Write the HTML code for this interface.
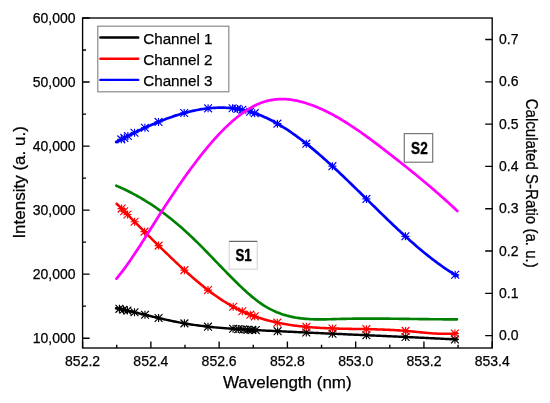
<!DOCTYPE html><html><head><meta charset="utf-8"><style>html,body{margin:0;padding:0;background:#fff;}svg{display:block;}text{font-family:"Liberation Sans",Arial,sans-serif;stroke:#000;stroke-width:0.25px;}</style></head><body>
<svg width="550" height="403" viewBox="0 0 550 403">
<rect width="550" height="403" fill="#fff"/>
<rect x="97.8" y="26.2" width="131" height="65.6" fill="none" stroke="#8a8a8a" stroke-width="1.2"/>
<g stroke-width="2.4" stroke-linecap="round"><line x1="100.4" y1="37.5" x2="138.2" y2="37.5" stroke="#000"/><line x1="100.4" y1="58.8" x2="138.2" y2="58.8" stroke="#f00"/><line x1="100.4" y1="79.9" x2="138.2" y2="79.9" stroke="#00f"/></g>
<g font-size="15.4" fill="#000"><text x="143.2" y="43.6" textLength="69.4" lengthAdjust="spacingAndGlyphs">Channel 1</text><text x="143.2" y="64.8" textLength="69.4" lengthAdjust="spacingAndGlyphs">Channel 2</text><text x="143.2" y="85.6" textLength="69.4" lengthAdjust="spacingAndGlyphs">Channel 3</text></g>
<g fill="none" stroke-linecap="round" stroke-linejoin="round">
<path d="M116.00,308.15 L117.50,308.45 L119.00,308.76 L120.50,309.07 L122.00,309.40 L123.50,309.72 L125.00,310.06 L126.50,310.40 L128.00,310.74 L129.50,311.09 L131.00,311.44 L132.50,311.79 L134.00,312.15 L135.50,312.50 L137.00,312.86 L138.50,313.22 L140.00,313.58 L141.50,313.94 L143.00,314.31 L144.50,314.67 L146.00,315.03 L147.50,315.39 L149.00,315.75 L150.50,316.11 L152.00,316.47 L153.50,316.82 L155.00,317.18 L156.50,317.53 L158.00,317.88 L159.50,318.23 L161.00,318.57 L162.50,318.92 L164.00,319.25 L165.50,319.59 L167.00,319.92 L168.50,320.25 L170.00,320.57 L171.50,320.88 L173.00,321.20 L174.50,321.50 L176.00,321.80 L177.50,322.10 L179.00,322.39 L180.50,322.67 L182.00,322.95 L183.50,323.21 L185.00,323.48 L186.50,323.73 L188.00,323.98 L189.50,324.22 L191.00,324.45 L192.50,324.68 L194.00,324.90 L195.50,325.11 L197.00,325.32 L198.50,325.52 L200.00,325.71 L201.50,325.90 L203.00,326.09 L204.50,326.26 L206.00,326.44 L207.50,326.60 L209.00,326.77 L210.50,326.92 L212.00,327.07 L213.50,327.22 L215.00,327.37 L216.50,327.50 L218.00,327.64 L219.50,327.77 L221.00,327.90 L222.50,328.02 L224.00,328.14 L225.50,328.25 L227.00,328.37 L228.50,328.47 L230.00,328.58 L231.50,328.68 L233.00,328.78 L234.50,328.88 L236.00,328.98 L237.50,329.07 L239.00,329.16 L240.50,329.25 L242.00,329.34 L243.50,329.42 L245.00,329.51 L246.50,329.59 L248.00,329.67 L249.50,329.75 L251.00,329.83 L252.50,329.91 L254.00,329.99 L255.50,330.06 L257.00,330.14 L258.50,330.22 L260.00,330.29 L261.50,330.37 L263.00,330.45 L264.50,330.52 L266.00,330.60 L267.50,330.67 L269.00,330.75 L270.50,330.82 L272.00,330.89 L273.50,330.97 L275.00,331.04 L276.50,331.11 L278.00,331.19 L279.50,331.26 L281.00,331.33 L282.50,331.40 L284.00,331.48 L285.50,331.55 L287.00,331.62 L288.50,331.69 L290.00,331.76 L291.50,331.83 L293.00,331.90 L294.50,331.97 L296.00,332.04 L297.50,332.11 L299.00,332.18 L300.50,332.25 L302.00,332.32 L303.50,332.39 L305.00,332.46 L306.50,332.53 L308.00,332.60 L309.50,332.67 L311.00,332.74 L312.50,332.80 L314.00,332.87 L315.50,332.94 L317.00,333.01 L318.50,333.08 L320.00,333.14 L321.50,333.21 L323.00,333.28 L324.50,333.35 L326.00,333.41 L327.50,333.48 L329.00,333.55 L330.50,333.62 L332.00,333.68 L333.50,333.75 L335.00,333.82 L336.50,333.88 L338.00,333.95 L339.50,334.02 L341.00,334.08 L342.50,334.15 L344.00,334.22 L345.50,334.28 L347.00,334.35 L348.50,334.42 L350.00,334.48 L351.50,334.55 L353.00,334.62 L354.50,334.68 L356.00,334.75 L357.50,334.82 L359.00,334.88 L360.50,334.95 L362.00,335.02 L363.50,335.08 L365.00,335.15 L366.50,335.22 L368.00,335.28 L369.50,335.35 L371.00,335.42 L372.50,335.48 L374.00,335.55 L375.50,335.62 L377.00,335.69 L378.50,335.75 L380.00,335.82 L381.50,335.89 L383.00,335.96 L384.50,336.02 L386.00,336.09 L387.50,336.16 L389.00,336.23 L390.50,336.29 L392.00,336.36 L393.50,336.43 L395.00,336.50 L396.50,336.57 L398.00,336.64 L399.50,336.71 L401.00,336.77 L402.50,336.84 L404.00,336.91 L405.50,336.98 L407.00,337.05 L408.50,337.12 L410.00,337.19 L411.50,337.26 L413.00,337.33 L414.50,337.40 L416.00,337.47 L417.50,337.54 L419.00,337.62 L420.50,337.69 L422.00,337.76 L423.50,337.83 L425.00,337.90 L426.50,337.98 L428.00,338.05 L429.50,338.12 L431.00,338.19 L432.50,338.27 L434.00,338.34 L435.50,338.41 L437.00,338.49 L438.50,338.56 L440.00,338.64 L441.50,338.71 L443.00,338.79 L444.50,338.86 L446.00,338.94 L447.50,339.02 L449.00,339.09 L450.50,339.17 L452.00,339.25 L453.50,339.32 L455.00,339.40 L456.50,339.48 L457.00,339.50" stroke="#000" stroke-width="2.45"/>
<path d="M119.40,304.84v8.00M115.40,308.84h8.00M115.50,304.94l7.80,7.80M115.50,312.74l7.80,-7.80M123.40,305.70v8.00M119.40,309.70h8.00M119.50,305.80l7.80,7.80M119.50,313.60l7.80,-7.80M127.40,306.60v8.00M123.40,310.60h8.00M123.50,306.70l7.80,7.80M123.50,314.50l7.80,-7.80M134.50,308.26v8.00M130.50,312.26h8.00M130.60,308.36l7.80,7.80M130.60,316.16l7.80,-7.80M145.00,310.79v8.00M141.00,314.79h8.00M141.10,310.89l7.80,7.80M141.10,318.69l7.80,-7.80M158.60,314.02v8.00M154.60,318.02h8.00M154.70,314.12l7.80,7.80M154.70,321.92l7.80,-7.80M184.40,319.37v8.00M180.40,323.37h8.00M180.50,319.47l7.80,7.80M180.50,327.27l7.80,-7.80M208.00,322.66v8.00M204.00,326.66h8.00M204.10,322.76l7.80,7.80M204.10,330.56l7.80,-7.80M233.10,324.79v8.00M229.10,328.79h8.00M229.20,324.89l7.80,7.80M229.20,332.69l7.80,-7.80M238.30,325.12v8.00M234.30,329.12h8.00M234.40,325.22l7.80,7.80M234.40,333.02l7.80,-7.80M243.10,325.40v8.00M239.10,329.40h8.00M239.20,325.50l7.80,7.80M239.20,333.30l7.80,-7.80M247.60,325.65v8.00M243.60,329.65h8.00M243.70,325.75l7.80,7.80M243.70,333.55l7.80,-7.80M252.00,325.88v8.00M248.00,329.88h8.00M248.10,325.98l7.80,7.80M248.10,333.78l7.80,-7.80M255.80,326.08v8.00M251.80,330.08h8.00M251.90,326.18l7.80,7.80M251.90,333.98l7.80,-7.80M277.60,327.17v8.00M273.60,331.17h8.00M273.70,327.27l7.80,7.80M273.70,335.07l7.80,-7.80M306.30,328.52v8.00M302.30,332.52h8.00M302.40,328.62l7.80,7.80M302.40,336.42l7.80,-7.80M332.50,329.71v8.00M328.50,333.71h8.00M328.60,329.81l7.80,7.80M328.60,337.61l7.80,-7.80M366.40,331.21v8.00M362.40,335.21h8.00M362.50,331.31l7.80,7.80M362.50,339.11l7.80,-7.80M405.60,332.99v8.00M401.60,336.99h8.00M401.70,333.09l7.80,7.80M401.70,340.89l7.80,-7.80M454.90,335.40v8.00M450.90,339.40h8.00M451.00,335.50l7.80,7.80M451.00,343.30l7.80,-7.80" stroke="#000" stroke-width="1.15" stroke-linecap="butt"/>
<path d="M116.70,203.74 L118.20,205.22 L119.70,206.72 L121.20,208.21 L122.70,209.71 L124.20,211.22 L125.70,212.73 L127.20,214.24 L128.70,215.75 L130.20,217.26 L131.70,218.78 L133.20,220.29 L134.70,221.81 L136.20,223.32 L137.70,224.84 L139.20,226.35 L140.70,227.86 L142.20,229.36 L143.70,230.87 L145.20,232.37 L146.70,233.87 L148.20,235.36 L149.70,236.85 L151.20,238.34 L152.70,239.82 L154.20,241.30 L155.70,242.77 L157.20,244.25 L158.70,245.72 L160.20,247.18 L161.70,248.64 L163.20,250.10 L164.70,251.55 L166.20,253.00 L167.70,254.45 L169.20,255.89 L170.70,257.33 L172.20,258.76 L173.70,260.18 L175.20,261.60 L176.70,263.01 L178.20,264.41 L179.70,265.81 L181.20,267.20 L182.70,268.57 L184.20,269.94 L185.70,271.30 L187.20,272.65 L188.70,273.99 L190.20,275.32 L191.70,276.64 L193.20,277.94 L194.70,279.23 L196.20,280.51 L197.70,281.78 L199.20,283.03 L200.70,284.27 L202.20,285.49 L203.70,286.70 L205.20,287.89 L206.70,289.07 L208.20,290.23 L209.70,291.37 L211.20,292.50 L212.70,293.61 L214.20,294.70 L215.70,295.77 L217.20,296.82 L218.70,297.85 L220.20,298.86 L221.70,299.85 L223.20,300.82 L224.70,301.77 L226.20,302.70 L227.70,303.60 L229.20,304.49 L230.70,305.35 L232.20,306.18 L233.70,307.00 L235.20,307.79 L236.70,308.57 L238.20,309.32 L239.70,310.05 L241.20,310.76 L242.70,311.45 L244.20,312.13 L245.70,312.78 L247.20,313.41 L248.70,314.03 L250.20,314.63 L251.70,315.20 L253.20,315.77 L254.70,316.31 L256.20,316.84 L257.70,317.35 L259.20,317.84 L260.70,318.32 L262.20,318.79 L263.70,319.23 L265.20,319.66 L266.70,320.08 L268.20,320.49 L269.70,320.87 L271.20,321.25 L272.70,321.61 L274.20,321.96 L275.70,322.30 L277.20,322.62 L278.70,322.93 L280.20,323.23 L281.70,323.52 L283.20,323.79 L284.70,324.06 L286.20,324.31 L287.70,324.56 L289.20,324.79 L290.70,325.02 L292.20,325.23 L293.70,325.44 L295.20,325.64 L296.70,325.83 L298.20,326.01 L299.70,326.18 L301.20,326.35 L302.70,326.51 L304.20,326.66 L305.70,326.81 L307.20,326.94 L308.70,327.08 L310.20,327.20 L311.70,327.32 L313.20,327.43 L314.70,327.54 L316.20,327.64 L317.70,327.74 L319.20,327.83 L320.70,327.91 L322.20,327.99 L323.70,328.07 L325.20,328.14 L326.70,328.21 L328.20,328.28 L329.70,328.34 L331.20,328.39 L332.70,328.44 L334.20,328.49 L335.70,328.54 L337.20,328.58 L338.70,328.63 L340.20,328.66 L341.70,328.70 L343.20,328.74 L344.70,328.77 L346.20,328.80 L347.70,328.83 L349.20,328.86 L350.70,328.88 L352.20,328.91 L353.70,328.94 L355.20,328.96 L356.70,328.99 L358.20,329.01 L359.70,329.04 L361.20,329.06 L362.70,329.09 L364.20,329.11 L365.70,329.14 L367.20,329.17 L368.70,329.20 L370.20,329.23 L371.70,329.26 L373.20,329.30 L374.70,329.33 L376.20,329.37 L377.70,329.41 L379.20,329.46 L380.70,329.51 L382.20,329.56 L383.70,329.61 L385.20,329.67 L386.70,329.73 L388.20,329.79 L389.70,329.86 L391.20,329.93 L392.70,330.01 L394.20,330.09 L395.70,330.18 L397.20,330.27 L398.70,330.37 L400.20,330.47 L401.70,330.58 L403.20,330.69 L404.70,330.81 L406.20,330.93 L407.70,331.07 L409.20,331.20 L410.70,331.34 L412.20,331.49 L413.70,331.64 L415.20,331.78 L416.70,331.93 L418.20,332.09 L419.70,332.23 L421.20,332.38 L422.70,332.53 L424.20,332.67 L425.70,332.81 L427.20,332.94 L428.70,333.07 L430.20,333.19 L431.70,333.30 L433.20,333.41 L434.70,333.50 L436.20,333.59 L437.70,333.66 L439.20,333.73 L440.70,333.78 L442.20,333.82 L443.70,333.84 L445.20,333.85 L446.70,333.84 L448.20,333.82 L449.70,333.77 L451.20,333.71 L452.70,333.64 L454.20,333.54 L455.70,333.42 L457.00,333.29" stroke="#ff0000" stroke-width="2.55"/>
<path d="M121.60,204.61v8.00M117.60,208.61h8.00M117.70,204.71l7.80,7.80M117.70,212.51l7.80,-7.80M124.20,207.22v8.00M120.20,211.22h8.00M120.30,207.32l7.80,7.80M120.30,215.12l7.80,-7.80M127.50,210.54v8.00M123.50,214.54h8.00M123.60,210.64l7.80,7.80M123.60,218.44l7.80,-7.80M134.60,217.71v8.00M130.60,221.71h8.00M130.70,217.81l7.80,7.80M130.70,225.61l7.80,-7.80M144.50,227.67v8.00M140.50,231.67h8.00M140.60,227.77l7.80,7.80M140.60,235.57l7.80,-7.80M158.60,241.62v8.00M154.60,245.62h8.00M154.70,241.72l7.80,7.80M154.70,249.52l7.80,-7.80M184.40,266.13v8.00M180.40,270.13h8.00M180.50,266.23l7.80,7.80M180.50,274.03l7.80,-7.80M208.00,286.08v8.00M204.00,290.08h8.00M204.10,286.18l7.80,7.80M204.10,293.98l7.80,-7.80M233.20,302.73v8.00M229.20,306.73h8.00M229.30,302.83l7.80,7.80M229.30,310.63l7.80,-7.80M242.30,307.27v8.00M238.30,311.27h8.00M238.40,307.37l7.80,7.80M238.40,315.17l7.80,-7.80M250.30,310.66v8.00M246.30,314.66h8.00M246.40,310.76l7.80,7.80M246.40,318.56l7.80,-7.80M254.80,312.35v8.00M250.80,316.35h8.00M250.90,312.45l7.80,7.80M250.90,320.25l7.80,-7.80M277.30,318.64v8.00M273.30,322.64h8.00M273.40,318.74l7.80,7.80M273.40,326.54l7.80,-7.80M306.40,322.87v8.00M302.40,326.87h8.00M302.50,322.97l7.80,7.80M302.50,330.77l7.80,-7.80M332.50,324.44v8.00M328.50,328.44h8.00M328.60,324.54l7.80,7.80M328.60,332.34l7.80,-7.80M366.40,325.15v8.00M362.40,329.15h8.00M362.50,325.25l7.80,7.80M362.50,333.05l7.80,-7.80M405.60,326.88v8.00M401.60,330.88h8.00M401.70,326.98l7.80,7.80M401.70,334.78l7.80,-7.80M454.90,329.48v8.00M450.90,333.48h8.00M451.00,329.58l7.80,7.80M451.00,337.38l7.80,-7.80" stroke="#ff0000" stroke-width="1.15" stroke-linecap="butt"/>
<path d="M116.20,142.01 L117.70,141.23 L119.20,140.45 L120.70,139.68 L122.20,138.91 L123.70,138.14 L125.20,137.37 L126.70,136.62 L128.20,135.86 L129.70,135.11 L131.20,134.36 L132.70,133.62 L134.20,132.88 L135.70,132.15 L137.20,131.43 L138.70,130.71 L140.20,130.00 L141.70,129.29 L143.20,128.59 L144.70,127.90 L146.20,127.21 L147.70,126.54 L149.20,125.87 L150.70,125.20 L152.20,124.55 L153.70,123.90 L155.20,123.27 L156.70,122.64 L158.20,122.02 L159.70,121.41 L161.20,120.81 L162.70,120.22 L164.20,119.64 L165.70,119.07 L167.20,118.51 L168.70,117.97 L170.20,117.43 L171.70,116.91 L173.20,116.39 L174.70,115.89 L176.20,115.40 L177.70,114.93 L179.20,114.46 L180.70,114.01 L182.20,113.58 L183.70,113.15 L185.20,112.74 L186.70,112.34 L188.20,111.96 L189.70,111.59 L191.20,111.24 L192.70,110.90 L194.20,110.58 L195.70,110.27 L197.20,109.98 L198.70,109.71 L200.20,109.45 L201.70,109.20 L203.20,108.98 L204.70,108.77 L206.20,108.58 L207.70,108.40 L209.20,108.24 L210.70,108.11 L212.20,107.98 L213.70,107.88 L215.20,107.80 L216.70,107.73 L218.20,107.69 L219.70,107.66 L221.20,107.66 L222.70,107.67 L224.20,107.70 L225.70,107.76 L227.20,107.83 L228.70,107.93 L230.20,108.05 L231.70,108.18 L233.20,108.35 L234.70,108.53 L236.20,108.73 L237.70,108.96 L239.20,109.21 L240.70,109.48 L242.20,109.78 L243.70,110.10 L245.20,110.44 L246.70,110.81 L248.20,111.20 L249.70,111.61 L251.20,112.05 L252.70,112.52 L254.20,113.01 L255.70,113.52 L257.20,114.07 L258.70,114.63 L260.20,115.22 L261.70,115.84 L263.20,116.48 L264.70,117.14 L266.20,117.83 L267.70,118.54 L269.20,119.27 L270.70,120.02 L272.20,120.80 L273.70,121.60 L275.20,122.42 L276.70,123.26 L278.20,124.12 L279.70,125.00 L281.20,125.90 L282.70,126.83 L284.20,127.77 L285.70,128.73 L287.20,129.70 L288.70,130.70 L290.20,131.71 L291.70,132.75 L293.20,133.80 L294.70,134.86 L296.20,135.94 L297.70,137.04 L299.20,138.16 L300.70,139.29 L302.20,140.43 L303.70,141.59 L305.20,142.77 L306.70,143.96 L308.20,145.16 L309.70,146.37 L311.20,147.60 L312.70,148.85 L314.20,150.10 L315.70,151.37 L317.20,152.64 L318.70,153.93 L320.20,155.23 L321.70,156.55 L323.20,157.87 L324.70,159.20 L326.20,160.54 L327.70,161.89 L329.20,163.25 L330.70,164.62 L332.20,166.00 L333.70,167.38 L335.20,168.78 L336.70,170.18 L338.20,171.58 L339.70,173.00 L341.20,174.42 L342.70,175.84 L344.20,177.27 L345.70,178.71 L347.20,180.15 L348.70,181.60 L350.20,183.05 L351.70,184.50 L353.20,185.96 L354.70,187.42 L356.20,188.89 L357.70,190.36 L359.20,191.82 L360.70,193.29 L362.20,194.77 L363.70,196.24 L365.20,197.71 L366.70,199.19 L368.20,200.66 L369.70,202.14 L371.20,203.61 L372.70,205.09 L374.20,206.56 L375.70,208.03 L377.20,209.50 L378.70,210.96 L380.20,212.43 L381.70,213.89 L383.20,215.35 L384.70,216.80 L386.20,218.25 L387.70,219.70 L389.20,221.14 L390.70,222.57 L392.20,224.01 L393.70,225.43 L395.20,226.85 L396.70,228.26 L398.20,229.67 L399.70,231.07 L401.20,232.46 L402.70,233.84 L404.20,235.22 L405.70,236.59 L407.20,237.95 L408.70,239.30 L410.20,240.64 L411.70,241.97 L413.20,243.29 L414.70,244.60 L416.20,245.90 L417.70,247.19 L419.20,248.46 L420.70,249.73 L422.20,250.98 L423.70,252.22 L425.20,253.45 L426.70,254.66 L428.20,255.86 L429.70,257.05 L431.20,258.22 L432.70,259.38 L434.20,260.52 L435.70,261.65 L437.20,262.76 L438.70,263.86 L440.20,264.94 L441.70,266.01 L443.20,267.05 L444.70,268.08 L446.20,269.09 L447.70,270.09 L449.20,271.06 L450.70,272.02 L452.20,272.96 L453.70,273.88 L455.20,274.78 L456.70,275.66 L457.30,276.00" stroke="#0000ff" stroke-width="2.70"/>
<path d="M121.30,135.37v8.00M117.30,139.37h8.00M117.40,135.47l7.80,7.80M117.40,143.27l7.80,-7.80M124.30,133.83v8.00M120.30,137.83h8.00M120.40,133.93l7.80,7.80M120.40,141.73l7.80,-7.80M127.90,132.01v8.00M123.90,136.01h8.00M124.00,132.11l7.80,7.80M124.00,139.91l7.80,-7.80M134.50,128.74v8.00M130.50,132.74h8.00M130.60,128.84l7.80,7.80M130.60,136.64l7.80,-7.80M144.90,123.81v8.00M140.90,127.81h8.00M141.00,123.91l7.80,7.80M141.00,131.71l7.80,-7.80M158.50,117.90v8.00M154.50,121.90h8.00M154.60,118.00l7.80,7.80M154.60,125.80l7.80,-7.80M184.20,109.01v8.00M180.20,113.01h8.00M180.30,109.11l7.80,7.80M180.30,116.91l7.80,-7.80M208.10,104.36v8.00M204.10,108.36h8.00M204.20,104.46l7.80,7.80M204.20,112.26l7.80,-7.80M232.60,104.28v8.00M228.60,108.28h8.00M228.70,104.38l7.80,7.80M228.70,112.18l7.80,-7.80M237.50,104.93v8.00M233.50,108.93h8.00M233.60,105.03l7.80,7.80M233.60,112.83l7.80,-7.80M242.30,105.80v8.00M238.30,109.80h8.00M238.40,105.90l7.80,7.80M238.40,113.70l7.80,-7.80M250.10,107.73v8.00M246.10,111.73h8.00M246.20,107.83l7.80,7.80M246.20,115.63l7.80,-7.80M254.70,109.18v8.00M250.70,113.18h8.00M250.80,109.28l7.80,7.80M250.80,117.08l7.80,-7.80M277.40,119.66v8.00M273.40,123.66h8.00M273.50,119.76l7.80,7.80M273.50,127.56l7.80,-7.80M306.30,139.64v8.00M302.30,143.64h8.00M302.40,139.74l7.80,7.80M302.40,147.54l7.80,-7.80M332.40,162.18v8.00M328.40,166.18h8.00M328.50,162.28l7.80,7.80M328.50,170.08l7.80,-7.80M366.40,194.89v8.00M362.40,198.89h8.00M362.50,194.99l7.80,7.80M362.50,202.79l7.80,-7.80M405.40,232.31v8.00M401.40,236.31h8.00M401.50,232.41l7.80,7.80M401.50,240.21l7.80,-7.80M455.20,270.78v8.00M451.20,274.78h8.00M451.30,270.88l7.80,7.80M451.30,278.68l7.80,-7.80" stroke="#0000ff" stroke-width="1.15" stroke-linecap="butt"/>
<path d="M116.30,185.72 L117.80,186.36 L119.30,187.01 L120.80,187.68 L122.30,188.36 L123.80,189.06 L125.30,189.77 L126.80,190.50 L128.30,191.24 L129.80,192.00 L131.30,192.77 L132.80,193.56 L134.30,194.36 L135.80,195.18 L137.30,196.01 L138.80,196.86 L140.30,197.72 L141.80,198.60 L143.30,199.49 L144.80,200.40 L146.30,201.32 L147.80,202.26 L149.30,203.22 L150.80,204.19 L152.30,205.18 L153.80,206.18 L155.30,207.20 L156.80,208.24 L158.30,209.29 L159.80,210.36 L161.30,211.44 L162.80,212.54 L164.30,213.66 L165.80,214.79 L167.30,215.94 L168.80,217.10 L170.30,218.29 L171.80,219.48 L173.30,220.70 L174.80,221.93 L176.30,223.18 L177.80,224.45 L179.30,225.73 L180.80,227.03 L182.30,228.35 L183.80,229.68 L185.30,231.03 L186.80,232.40 L188.30,233.78 L189.80,235.19 L191.30,236.61 L192.80,238.04 L194.30,239.49 L195.80,240.95 L197.30,242.43 L198.80,243.91 L200.30,245.41 L201.80,246.92 L203.30,248.44 L204.80,249.96 L206.30,251.50 L207.80,253.04 L209.30,254.58 L210.80,256.13 L212.30,257.68 L213.80,259.24 L215.30,260.80 L216.80,262.35 L218.30,263.91 L219.80,265.47 L221.30,267.02 L222.80,268.58 L224.30,270.13 L225.80,271.67 L227.30,273.21 L228.80,274.74 L230.30,276.27 L231.80,277.78 L233.30,279.29 L234.80,280.79 L236.30,282.27 L237.80,283.75 L239.30,285.20 L240.80,286.65 L242.30,288.07 L243.80,289.47 L245.30,290.85 L246.80,292.21 L248.30,293.54 L249.80,294.84 L251.30,296.12 L252.80,297.37 L254.30,298.58 L255.80,299.76 L257.30,300.91 L258.80,302.01 L260.30,303.08 L261.80,304.11 L263.30,305.10 L264.80,306.04 L266.30,306.94 L267.80,307.81 L269.30,308.63 L270.80,309.42 L272.30,310.16 L273.80,310.87 L275.30,311.55 L276.80,312.19 L278.30,312.79 L279.80,313.36 L281.30,313.90 L282.80,314.41 L284.30,314.88 L285.80,315.33 L287.30,315.75 L288.80,316.14 L290.30,316.50 L291.80,316.84 L293.30,317.15 L294.80,317.43 L296.30,317.70 L297.80,317.93 L299.30,318.15 L300.80,318.35 L302.30,318.53 L303.80,318.68 L305.30,318.82 L306.80,318.94 L308.30,319.05 L309.80,319.14 L311.30,319.21 L312.80,319.27 L314.30,319.32 L315.80,319.35 L317.30,319.37 L318.80,319.39 L320.30,319.39 L321.80,319.39 L323.30,319.37 L324.80,319.35 L326.30,319.32 L327.80,319.29 L329.30,319.26 L330.80,319.22 L332.30,319.18 L333.80,319.13 L335.30,319.09 L336.80,319.04 L338.30,319.00 L339.80,318.96 L341.30,318.92 L342.80,318.88 L344.30,318.85 L345.80,318.81 L347.30,318.78 L348.80,318.76 L350.30,318.73 L351.80,318.71 L353.30,318.69 L354.80,318.67 L356.30,318.65 L357.80,318.64 L359.30,318.63 L360.80,318.62 L362.30,318.61 L363.80,318.60 L365.30,318.59 L366.80,318.59 L368.30,318.59 L369.80,318.59 L371.30,318.59 L372.80,318.59 L374.30,318.59 L375.80,318.60 L377.30,318.60 L378.80,318.61 L380.30,318.62 L381.80,318.63 L383.30,318.64 L384.80,318.65 L386.30,318.67 L387.80,318.68 L389.30,318.69 L390.80,318.71 L392.30,318.72 L393.80,318.74 L395.30,318.76 L396.80,318.78 L398.30,318.79 L399.80,318.81 L401.30,318.83 L402.80,318.85 L404.30,318.87 L405.80,318.89 L407.30,318.91 L408.80,318.93 L410.30,318.95 L411.80,318.97 L413.30,318.99 L414.80,319.01 L416.30,319.03 L417.80,319.05 L419.30,319.07 L420.80,319.09 L422.30,319.11 L423.80,319.13 L425.30,319.15 L426.80,319.16 L428.30,319.18 L429.80,319.20 L431.30,319.21 L432.80,319.23 L434.30,319.24 L435.80,319.25 L437.30,319.27 L438.80,319.28 L440.30,319.29 L441.80,319.30 L443.30,319.30 L444.80,319.31 L446.30,319.32 L447.80,319.32 L449.30,319.32 L450.80,319.33 L452.30,319.33 L453.80,319.32 L455.30,319.32 L456.80,319.32 L457.00,319.32" stroke="#008000" stroke-width="2.65"/>
<path d="M116.50,278.62 L118.00,276.81 L119.50,274.96 L121.00,273.05 L122.50,271.10 L124.00,269.10 L125.50,267.07 L127.00,264.99 L128.50,262.87 L130.00,260.72 L131.50,258.54 L133.00,256.33 L134.50,254.09 L136.00,251.83 L137.50,249.54 L139.00,247.23 L140.50,244.91 L142.00,242.56 L143.50,240.21 L145.00,237.84 L146.50,235.47 L148.00,233.08 L149.50,230.70 L151.00,228.31 L152.50,225.92 L154.00,223.54 L155.50,221.16 L157.00,218.79 L158.50,216.43 L160.00,214.08 L161.50,211.74 L163.00,209.41 L164.50,207.09 L166.00,204.78 L167.50,202.48 L169.00,200.20 L170.50,197.93 L172.00,195.67 L173.50,193.42 L175.00,191.19 L176.50,188.98 L178.00,186.78 L179.50,184.59 L181.00,182.42 L182.50,180.27 L184.00,178.14 L185.50,176.02 L187.00,173.92 L188.50,171.84 L190.00,169.78 L191.50,167.73 L193.00,165.71 L194.50,163.70 L196.00,161.72 L197.50,159.76 L199.00,157.82 L200.50,155.90 L202.00,154.01 L203.50,152.13 L205.00,150.28 L206.50,148.46 L208.00,146.66 L209.50,144.88 L211.00,143.13 L212.50,141.40 L214.00,139.70 L215.50,138.03 L217.00,136.39 L218.50,134.77 L220.00,133.18 L221.50,131.62 L223.00,130.09 L224.50,128.59 L226.00,127.12 L227.50,125.68 L229.00,124.28 L230.50,122.91 L232.00,121.56 L233.50,120.26 L235.00,118.98 L236.50,117.75 L238.00,116.54 L239.50,115.38 L241.00,114.24 L242.50,113.15 L244.00,112.09 L245.50,111.07 L247.00,110.09 L248.50,109.15 L250.00,108.25 L251.50,107.38 L253.00,106.56 L254.50,105.78 L256.00,105.04 L257.50,104.35 L259.00,103.69 L260.50,103.08 L262.00,102.52 L263.50,102.00 L265.00,101.52 L266.50,101.09 L268.00,100.70 L269.50,100.36 L271.00,100.06 L272.50,99.80 L274.00,99.58 L275.50,99.41 L277.00,99.27 L278.50,99.17 L280.00,99.11 L281.50,99.09 L283.00,99.10 L284.50,99.15 L286.00,99.23 L287.50,99.34 L289.00,99.49 L290.50,99.67 L292.00,99.87 L293.50,100.11 L295.00,100.38 L296.50,100.68 L298.00,101.00 L299.50,101.35 L301.00,101.72 L302.50,102.12 L304.00,102.54 L305.50,102.99 L307.00,103.45 L308.50,103.94 L310.00,104.46 L311.50,104.99 L313.00,105.55 L314.50,106.12 L316.00,106.72 L317.50,107.34 L319.00,107.98 L320.50,108.64 L322.00,109.31 L323.50,110.01 L325.00,110.72 L326.50,111.45 L328.00,112.20 L329.50,112.97 L331.00,113.76 L332.50,114.56 L334.00,115.38 L335.50,116.21 L337.00,117.06 L338.50,117.92 L340.00,118.80 L341.50,119.70 L343.00,120.60 L344.50,121.53 L346.00,122.46 L347.50,123.41 L349.00,124.37 L350.50,125.34 L352.00,126.33 L353.50,127.33 L355.00,128.34 L356.50,129.35 L358.00,130.38 L359.50,131.42 L361.00,132.47 L362.50,133.53 L364.00,134.60 L365.50,135.68 L367.00,136.76 L368.50,137.86 L370.00,138.96 L371.50,140.07 L373.00,141.18 L374.50,142.30 L376.00,143.43 L377.50,144.56 L379.00,145.70 L380.50,146.85 L382.00,148.00 L383.50,149.15 L385.00,150.31 L386.50,151.47 L388.00,152.63 L389.50,153.80 L391.00,154.97 L392.50,156.14 L394.00,157.32 L395.50,158.49 L397.00,159.67 L398.50,160.85 L400.00,162.03 L401.50,163.22 L403.00,164.41 L404.50,165.60 L406.00,166.80 L407.50,167.99 L409.00,169.20 L410.50,170.40 L412.00,171.61 L413.50,172.83 L415.00,174.05 L416.50,175.27 L418.00,176.50 L419.50,177.73 L421.00,178.97 L422.50,180.22 L424.00,181.46 L425.50,182.72 L427.00,183.98 L428.50,185.25 L430.00,186.52 L431.50,187.80 L433.00,189.09 L434.50,190.38 L436.00,191.68 L437.50,192.98 L439.00,194.30 L440.50,195.62 L442.00,196.95 L443.50,198.29 L445.00,199.63 L446.50,200.98 L448.00,202.35 L449.50,203.72 L451.00,205.10 L452.50,206.48 L454.00,207.88 L455.50,209.29 L457.00,210.70 L457.30,210.99" stroke="#ff00ff" stroke-width="2.75"/>
</g>
<rect x="82.60" y="18.00" width="409.60" height="330.00" fill="none" stroke="#000" stroke-width="1.35"/>
<path d="M82.60,348.00v-6.60M116.73,348.00v-3.20M150.87,348.00v-6.60M185.00,348.00v-3.20M219.13,348.00v-6.60M253.27,348.00v-3.20M287.40,348.00v-6.60M321.53,348.00v-3.20M355.67,348.00v-6.60M389.80,348.00v-3.20M423.93,348.00v-6.60M458.07,348.00v-3.20M492.20,348.00v-6.60M82.60,338.20h7.00M82.60,306.18h3.40M82.60,274.16h7.00M82.60,242.14h3.40M82.60,210.12h7.00M82.60,178.10h3.40M82.60,146.08h7.00M82.60,114.06h3.40M82.60,82.04h7.00M82.60,50.02h3.40M82.60,18.00h7.00M492.20,335.60h-7.00M492.20,293.30h-7.00M492.20,251.00h-7.00M492.20,208.70h-7.00M492.20,166.40h-7.00M492.20,124.10h-7.00M492.20,81.80h-7.00M492.20,39.50h-7.00" stroke="#000" stroke-width="1.35" fill="none"/>
<g font-size="14" fill="#000">
<text x="75.5" y="342.80" text-anchor="end">10,000</text>
<text x="75.5" y="278.76" text-anchor="end">20,000</text>
<text x="75.5" y="214.72" text-anchor="end">30,000</text>
<text x="75.5" y="150.68" text-anchor="end">40,000</text>
<text x="75.5" y="86.64" text-anchor="end">50,000</text>
<text x="75.5" y="22.60" text-anchor="end">60,000</text>
<text x="82.60" y="366.3" text-anchor="middle">852.2</text>
<text x="150.87" y="366.3" text-anchor="middle">852.4</text>
<text x="219.13" y="366.3" text-anchor="middle">852.6</text>
<text x="287.40" y="366.3" text-anchor="middle">852.8</text>
<text x="355.67" y="366.3" text-anchor="middle">853.0</text>
<text x="423.93" y="366.3" text-anchor="middle">853.2</text>
<text x="492.20" y="366.3" text-anchor="middle">853.4</text>
<text x="499" y="340.20">0.0</text>
<text x="499" y="297.90">0.1</text>
<text x="499" y="255.60">0.2</text>
<text x="499" y="213.30">0.3</text>
<text x="499" y="171.00">0.4</text>
<text x="499" y="128.70">0.5</text>
<text x="499" y="86.40">0.6</text>
<text x="499" y="44.10">0.7</text>
</g>
<text x="287.3" y="387.6" font-size="17" text-anchor="middle">Wavelength (nm)</text>
<text transform="translate(25,182.4) rotate(-90)" font-size="17" text-anchor="middle">Intensity (a. u.)</text>
<text transform="translate(525.8,183.2) rotate(90)" font-size="16.5" text-anchor="middle" textLength="169" lengthAdjust="spacingAndGlyphs">Calculated S-Ratio (a. u.)</text>
<rect x="404.3" y="133.6" width="28.4" height="28.6" fill="#fff" stroke="#777" stroke-width="1.2"/>
<text x="419.4" y="153.5" font-size="16" font-weight="bold" style="stroke-width:0.4px" text-anchor="middle" textLength="16.6" lengthAdjust="spacingAndGlyphs">S2</text>
<rect x="229.2" y="241.4" width="28" height="27.8" fill="#fff" stroke="#d0d0d0" stroke-width="1"/>
<line x1="229.2" y1="241.4" x2="257.2" y2="241.4" stroke="#666" stroke-width="1.2"/>
<text x="243.6" y="261.0" font-size="16" font-weight="bold" style="stroke-width:0.4px" text-anchor="middle" textLength="16.2" lengthAdjust="spacingAndGlyphs">S1</text>
</svg></body></html>
